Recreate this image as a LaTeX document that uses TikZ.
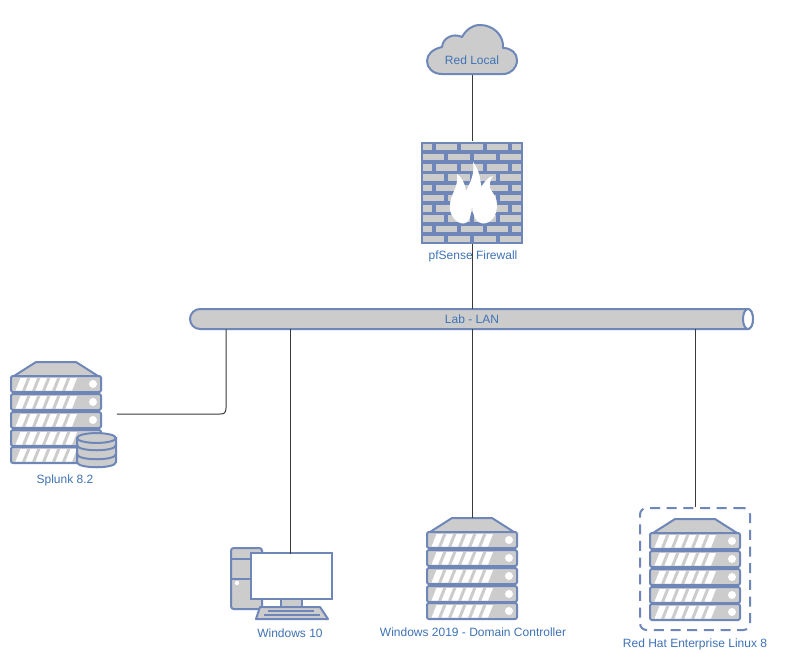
\documentclass[tikz,border=0pt]{standalone}
\usepackage{fontspec}
\setmainfont{Liberation Sans}
\definecolor{nblue}{HTML}{6E87B8}
\definecolor{ngrey}{HTML}{CCCCCC}
\definecolor{ntext}{HTML}{3F73B5}
\definecolor{nline}{HTML}{3A3A3A}
\tikzset{
  outl/.style={draw=nblue,line width=1.5pt,fill=ngrey},
  outw/.style={draw=nblue,line width=1.5pt,fill=white},
  bandline/.style={draw=nblue,line width=1.5pt},
  lbl/.style={text=ntext,font=\fontsize{9pt}{10pt}\selectfont,inner sep=0pt},
  holder/.style={inner sep=0pt,draw=none,fill=none},
  wire/.style={draw=nline,line width=0.75pt},
  serverpic/.pic={
    \path[outl,line join=round] (4,14) -- (26,0) -- (66,0) -- (88,14) -- cycle;
    \foreach \t/\h in {14/16,32/16,50/16,68/16,85/16}{
      \path[outl,rounded corners=1.5pt] (1,\t) rectangle (91,\t+\h);
      \foreach \k in {0,...,5}{
        \fill[white] (5.5+\k*10,\t+\h-1.5) -- (10.5+\k*10,\t+2) -- (17+\k*10,\t+2) -- (12+\k*10,\t+\h-1.5) -- cycle;
      }
      \fill[white] (83,\t+8) circle[radius=3pt];
    }
  },
}
\begin{document}
\begin{tikzpicture}[x=0.75pt,y=-0.75pt]
\useasboundingbox[fill=white] (0,0) rectangle (788,653);

% cloud
\path[outl,line join=round] (442,74) -- (503,74)
  .. controls (511,74) and (517,68) .. (517,60)
  .. controls (517,53) and (511,48) .. (503,48)
  .. controls (504,35) and (493,25) .. (480,25)
  .. controls (472,25) and (466,30) .. (462,37)
  .. controls (454,33) and (443,37) .. (442,47)
  .. controls (433,49) and (427,54) .. (427,61)
  .. controls (427,68) and (433,74) .. (442,74) -- cycle;
\node[holder,minimum width=67.5pt,minimum height=37.5pt] (cloud) at (472,49.5) {};
\node[lbl] (cloudlabel) at (472,60.5) {Red Local};

% firewall
\node[holder,fill=nblue,minimum width=76.5pt,minimum height=76.5pt] (fw) at (472,192.5) {};
\foreach \r in {0,2,4,6,8}{
  \foreach \a/\b in {423/432,436/457,461/483,487/508,512/521}{
    \fill[ngrey] (\a,143.8+\r*10.22) rectangle (\b,150.2+\r*10.22);
  }
}
\foreach \r in {1,3,5,7,9}{
  \foreach \a/\b in {423/444,448/470,474/496,500/521}{
    \fill[ngrey] (\a,143.8+\r*10.22) rectangle (\b,150.2+\r*10.22);
  }
}
\fill[white] (463,223.5)
  .. controls (455,223) and (449,214) .. (450,205)
  .. controls (450,195) and (459,187) .. (457,174)
  .. controls (462,177) and (465,184) .. (466,191)
  .. controls (470,183) and (475,174) .. (473,162)
  .. controls (478,168) and (481,178) .. (481,188)
  .. controls (484,182) and (488,177) .. (493,176)
  .. controls (489,182) and (489,186) .. (491,190)
  .. controls (494,195) and (497,198) .. (497,205)
  .. controls (497,216) and (491,223.5) .. (483,223.5)
  .. controls (477,223.5) and (473,217) .. (472,206)
  .. controls (471,214) and (470,223.5) .. (463,223.5) -- cycle;
\node[lbl] (fwlabel) at (473,256.5) {pfSense Firewall};

% bus
\path[outl] (200,309) -- (748,309) arc[start angle=-90,end angle=90,x radius=5,y radius=10] -- (200,329)
  arc[start angle=90,end angle=270,x radius=10,y radius=10] -- cycle;
\path[outw] (748,319) ellipse[x radius=3.75pt,y radius=7.5pt];
\node[holder,minimum width=422pt,minimum height=15pt] (bus) at (471.5,319) {};
\node[lbl] (buslabel) at (472,319) {Lab - LAN};

% splunk
\pic at (10,362) {serverpic};
\path[outl] (77,438) -- (77,462) .. controls (77,469) and (116,469) .. (116,462) -- (116,438) -- cycle;
\path[bandline] (77,445) .. controls (77,452) and (116,452) .. (116,445);
\path[bandline] (77,454) .. controls (77,461) and (116,461) .. (116,454);
\path[outl] (96.5,438) ellipse[x radius=14.6pt,y radius=3.7pt];
\node[holder,minimum width=79.5pt,minimum height=79pt] (splunk) at (63.5,414.5) {};
\node[lbl] (splunklabel) at (65,480.5) {Splunk 8.2};

% windows 10
\path[outl,rounded corners=2pt] (231,548) rectangle (262,609);
\draw[bandline] (231,559) -- (262,559) (231,579) -- (262,579);
\fill[white] (237,583) circle[radius=1.6pt];
\path[outl] (281,599) rectangle (302,607);
\path[outl,line join=round] (260,607) -- (320,607) -- (328,619) -- (256,619) -- cycle;
\draw[nblue,line width=1.2pt] (268,611) -- (314,611) (264,615) -- (320,615);
\path[outw] (251,553) rectangle (332,599);
\node[holder,minimum width=61pt,minimum height=35pt] (win) at (290,578) {};
\node[lbl] (winlabel) at (290,633) {Windows 10};

% domain controller
\pic at (426,518) {serverpic};
\node[holder,minimum width=69pt,minimum height=79pt] (dc) at (472,570.5) {};
\node[lbl] (dclabel) at (473,632.5) {Windows 2019 - Domain Controller};

% rhel
\pic at (649,519) {serverpic};
\node[holder,draw=nblue,line width=1.5pt,dash pattern=on 7.5pt off 5pt,rounded corners=5pt,minimum width=82.5pt,minimum height=91.5pt] (rhel) at (695,569) {};
\node[lbl] (rhellabel) at (695,644.5) {Red Hat Enterprise Linux 8};

% connectors
\draw[wire] (cloud.south) -- (fw.north);
\draw[wire] (fw.south) -- (bus.north -| fw.south);
\draw[wire] (bus.south -| 226,329) -- (226,408) .. controls (226,413) and (224,414) .. (220,414) -- (splunk.east |- 0,414);
\draw[wire] (bus.south -| win.north) -- (win.north);
\draw[wire] (bus.south -| dc.north) -- (dc.north);
\draw[wire] (bus.south -| rhel.north) -- (rhel.north);
\end{tikzpicture}
\end{document}
